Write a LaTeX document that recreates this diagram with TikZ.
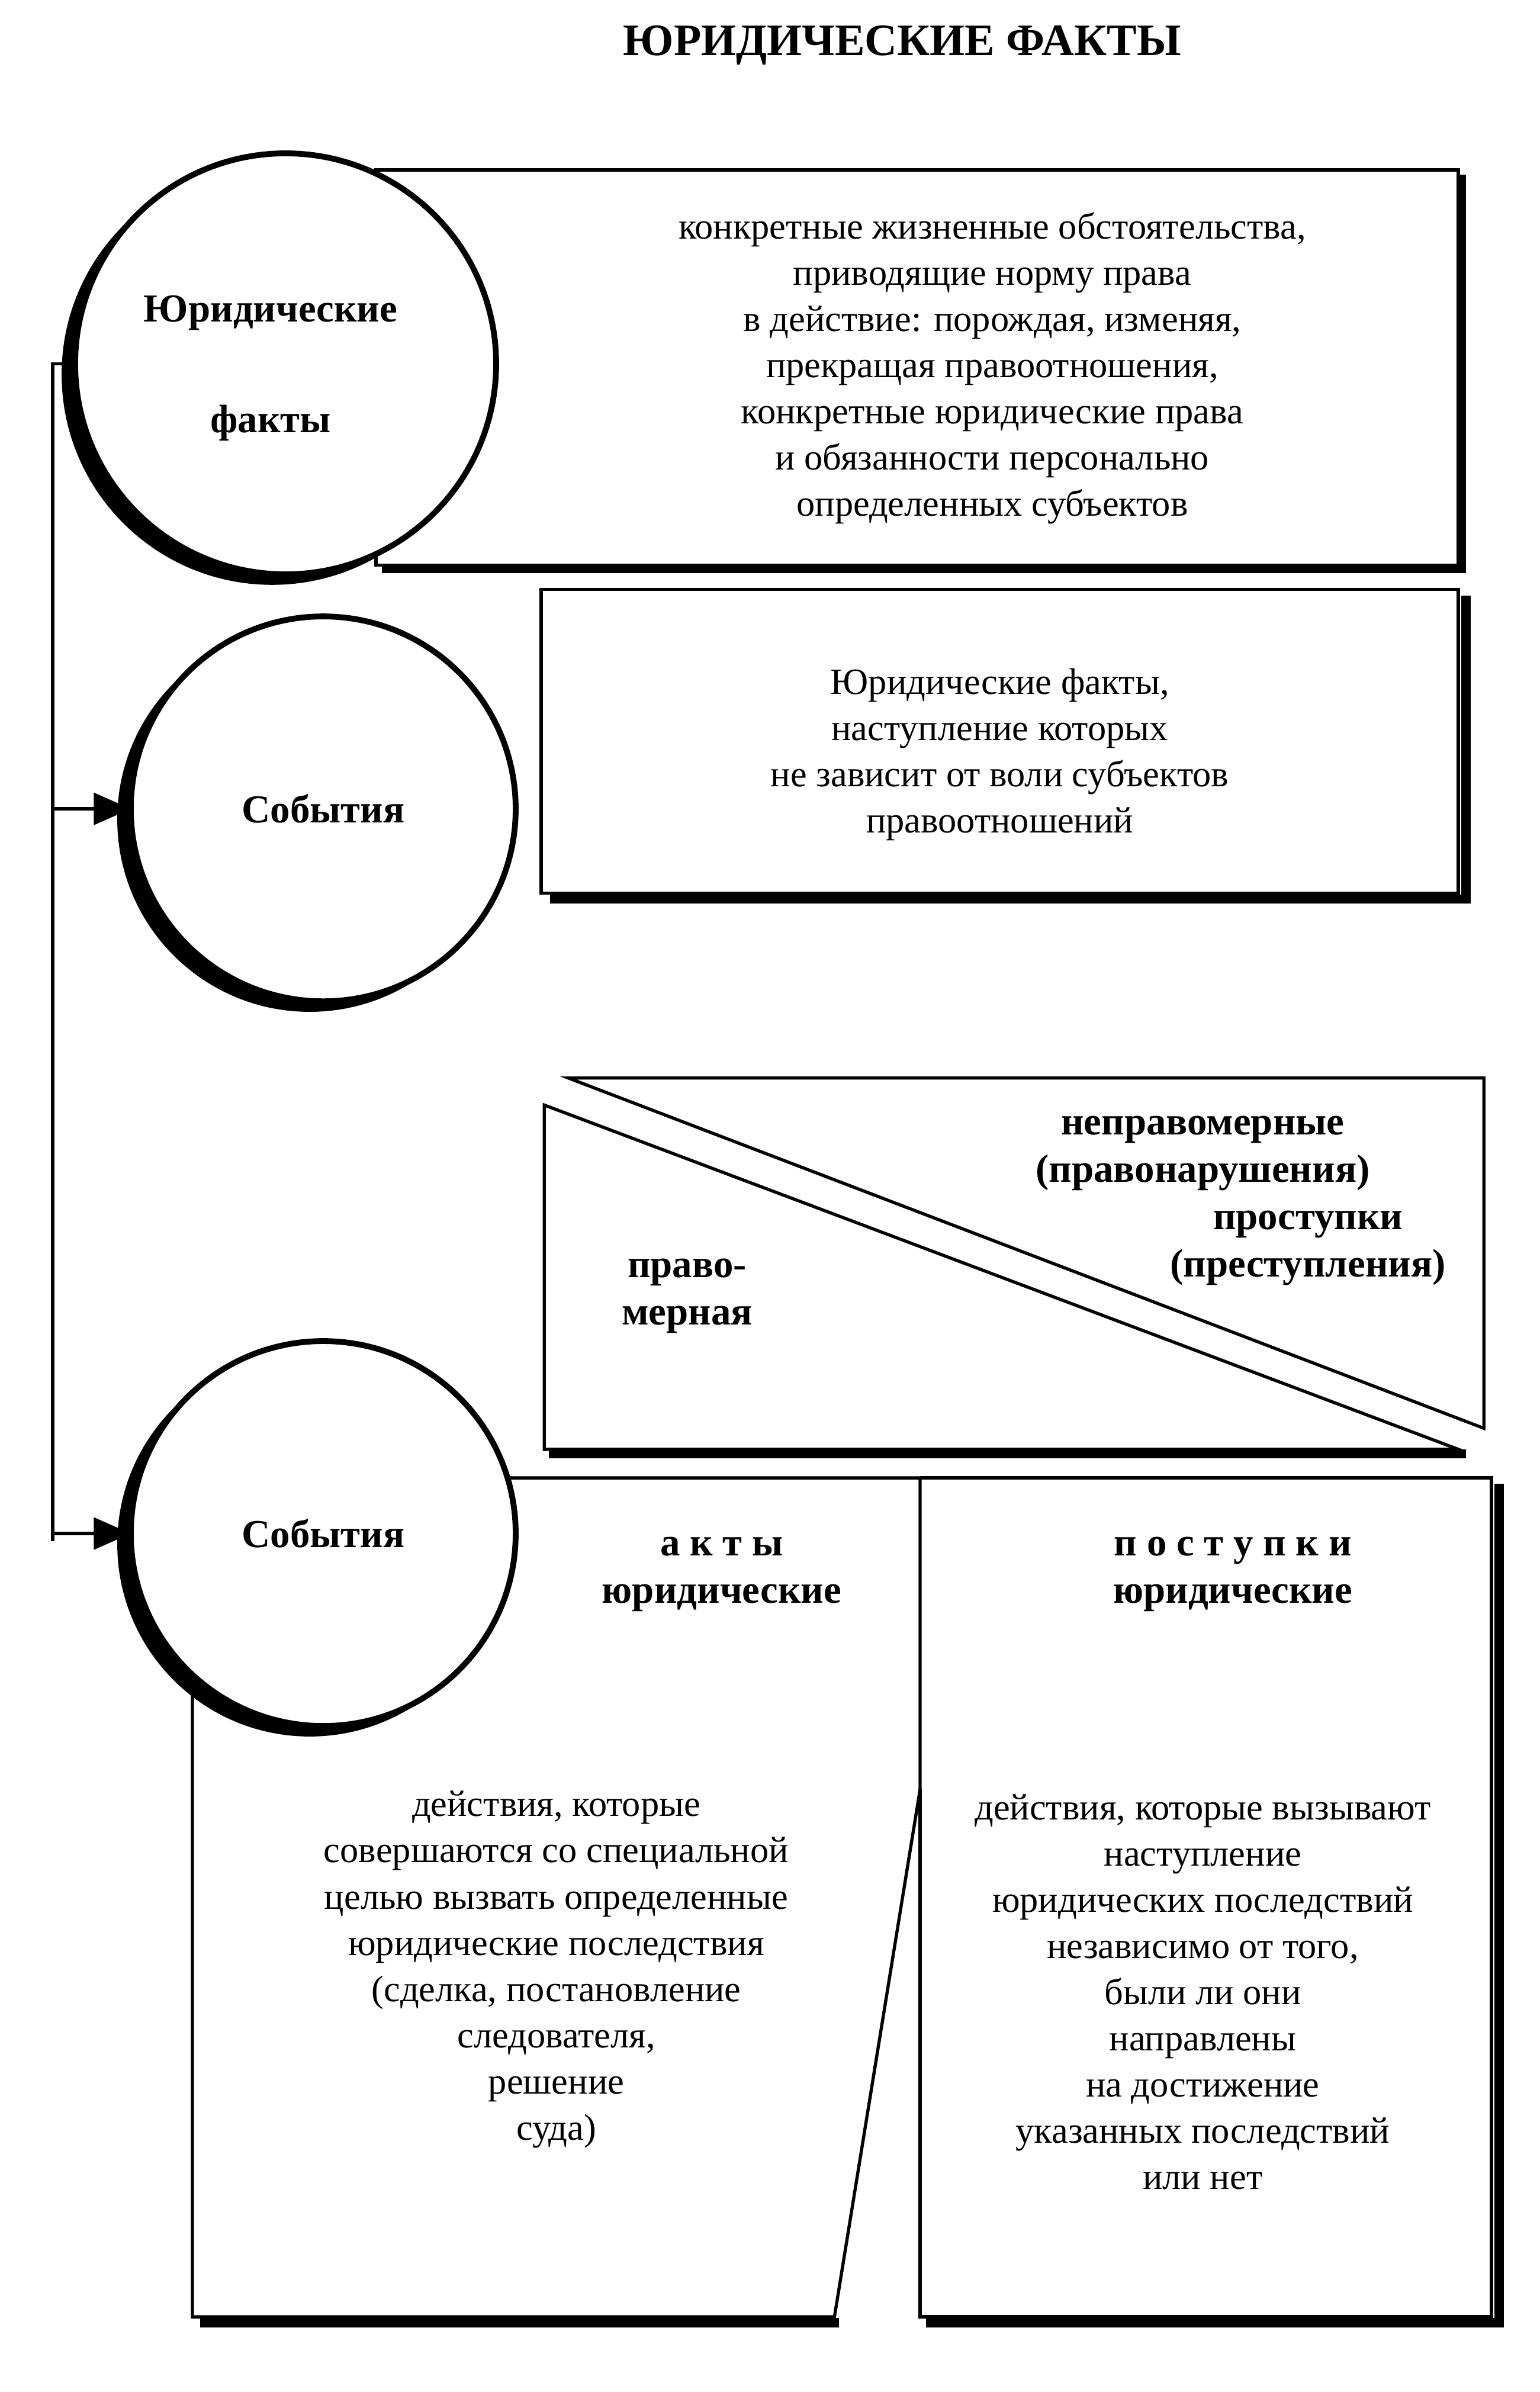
\documentclass[tikz,border=0pt]{standalone}
\usepackage{fontspec}
\setmainfont{Liberation Serif}
\usetikzlibrary{arrows.meta}
\tikzset{
  body/.style={align=center, font=\fontsize{14}{17.5}\selectfont},
  bold/.style={align=center, font=\fontsize{15}{18}\selectfont\bfseries},
  frame/.style={draw, line width=1.2pt},
  shade/.style={draw, line width=3.5pt},
}
\newcommand{\factcircle}[4]{%
  \fill (#1-9,#2+7) circle (#3);
  \draw[fill=white, line width=2.2pt] (#1,#2) circle (#3);
  \coordinate (#4) at (#1-#3,#2);
}
\begin{document}
\begin{tikzpicture}[x=0.02cm, y=-0.02cm]
\useasboundingbox (0,0) rectangle (1024,1591);

% Title
\node[bold, font=\fontsize{17}{20}\selectfont\bfseries] (title) at (600,30) {ЮРИДИЧЕСКИЕ ФАКТЫ};

% First box: definition
\draw[shade] (254,378) -- (972,378) -- (972,116);
\draw[frame] (250,113) rectangle (970,376);
\node[body] (deftext) at (660,245) {конкретные жизненные обстоятельства,\\приводящие норму права\\в действие: порождая, изменяя,\\прекращая правоотношения,\\конкретные юридические права\\и обязанности персонально\\определенных субъектов};
\factcircle{190}{242}{140}{facts}
\node[bold] (factsname) at (180,245) {Юридические\\[24pt]факты};

% Second box: events
\draw[shade] (366,598) -- (975,598) -- (975,396);
\draw[frame] (360,392) rectangle (970,594);
\node[body] (eventtext) at (665,502) {Юридические факты,\\наступление которых\\не зависит от воли субъектов\\правоотношений};
\factcircle{215}{538}{128}{events}
\node[bold] (eventname) at (215,538) {События};

% Triangles
\draw[frame] (378,717) -- (987,717) -- (987,950) -- cycle;
\draw[shade] (365,967) -- (975,967);
\draw[frame] (362,735) -- (362,964) -- (970,964) -- cycle;
\node[bold] (illegal) at (800,767) {неправомерные\\(правонарушения)};
\node[bold] (offence) at (870,830) {проступки\\(преступления)};
\node[bold] (legal) at (457,862) {право-\\мерная};

% Lower boxes
\draw[shade] (133,1545) -- (558,1545);
\draw[shade] (616,1545) -- (997,1545) -- (997,987);
\draw[frame] (128,1120) -- (128,1541) -- (555,1541) -- (612,1190) -- (612,983) -- (330,983);
\draw[frame] (612,983) -- (992,983) -- (992,1541) -- (612,1541) -- (612,1190);
\node[bold] (acts) at (480,1047) {а к т ы\\юридические};
\node[bold] (deeds) at (820,1047) {п о с т у п к и\\юридические};
\node[body] (actstext) at (370,1310) {действия, которые\\совершаются со специальной\\целью вызвать определенные\\юридические последствия\\(сделка, постановление\\следователя,\\решение\\суда)};
\node[body] (deedstext) at (800,1325) {действия, которые вызывают\\наступление\\юридических последствий\\независимо от того,\\были ли они\\направлены\\на достижение\\указанных последствий\\или нет};
\factcircle{215}{1020}{128}{events2}
\node[bold] (eventname2) at (215,1020) {События};

% Connectors
\coordinate (trunk) at (35,242);
\draw[line width=1.2pt] (facts) -- (trunk) -- (35,1025);
\draw[line width=1.2pt, -{Triangle[length=14pt,width=12pt]}] (35,538) -- (events);
\draw[line width=1.2pt, -{Triangle[length=14pt,width=12pt]}] (35,1020) -- (events2);
\end{tikzpicture}
\end{document}
